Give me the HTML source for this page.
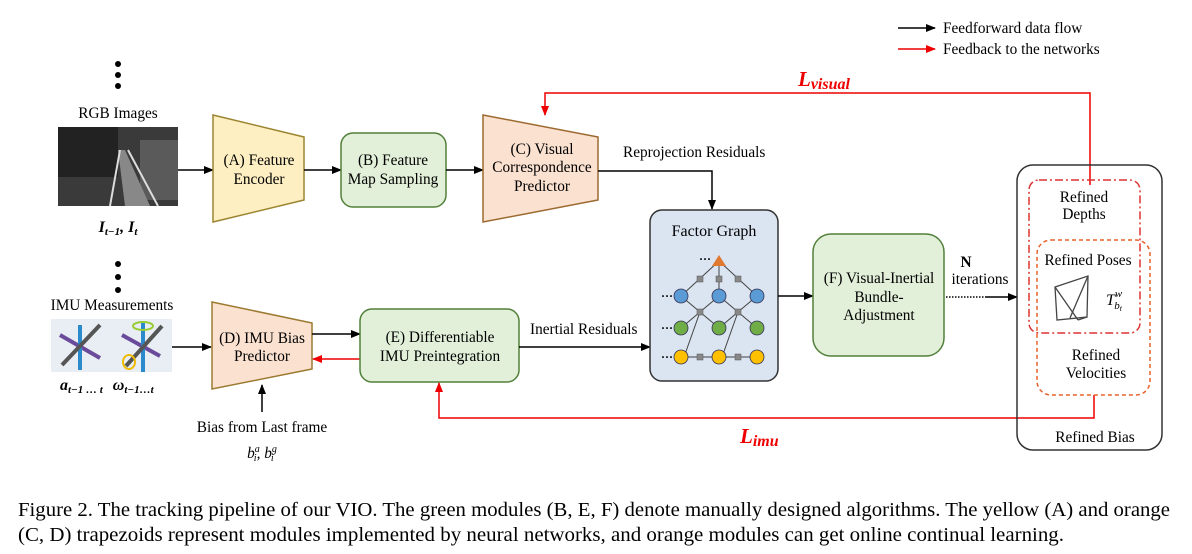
<!DOCTYPE html>
<html><head><meta charset="utf-8"><style>
body{margin:0;background:#fff;}
svg{display:block;font-family:"Liberation Serif",serif;}
</style></head><body>
<svg width="1192" height="554" viewBox="0 0 1192 554" xmlns="http://www.w3.org/2000/svg">
<defs>
<marker id="ab" markerWidth="10" markerHeight="8" refX="9" refY="4" orient="auto" markerUnits="userSpaceOnUse"><path d="M0,0 L10,4 L0,8 z" fill="#000"/></marker>
<marker id="ar" markerWidth="10" markerHeight="8" refX="9" refY="4" orient="auto" markerUnits="userSpaceOnUse"><path d="M0,0 L10,4 L0,8 z" fill="#e00"/></marker>
</defs>
<g font-size="15.3">
<!-- legend -->
<line x1="898" y1="28" x2="935" y2="28" stroke="#000" stroke-width="1.5" marker-end="url(#ab)"/>
<text x="943" y="33">Feedforward data flow</text>
<line x1="898" y1="49" x2="935" y2="49" stroke="#e00" stroke-width="1.5" marker-end="url(#ar)"/>
<text x="943" y="54">Feedback to the networks</text>

<!-- dots -->
<circle cx="118" cy="64" r="3"/><circle cx="118" cy="75" r="3"/><circle cx="118" cy="86" r="3"/>
<circle cx="118" cy="264" r="3"/><circle cx="118" cy="277" r="3"/><circle cx="118" cy="290" r="3"/>
<text x="118" y="118" text-anchor="middle">RGB Images</text>
<!-- image -->
<rect x="58" y="127" width="120" height="79" fill="#3a3a3a"/>
<rect x="58" y="127" width="60" height="50" fill="#222"/>
<rect x="140" y="140" width="38" height="60" fill="#5a5a5a"/>
<polygon points="118,150 125,150 150,206 125,206" fill="#888"/>
<line x1="120" y1="150" x2="110" y2="206" stroke="#ddd" stroke-width="2"/>
<line x1="128" y1="150" x2="158" y2="206" stroke="#ddd" stroke-width="2"/>
<text x="118" y="232" text-anchor="middle" font-weight="bold" font-style="italic" font-size="16">I<tspan font-size="11" dy="3">t−1</tspan><tspan dy="-3">, I</tspan><tspan font-size="11" dy="3">t</tspan></text>

<text x="112" y="310" text-anchor="middle">IMU Measurements</text>
<rect x="51" y="319" width="121" height="53" fill="#e8eef3"/>
<line x1="60" y1="335" x2="100" y2="358" stroke="#6a4a9a" stroke-width="4"/>
<line x1="80" y1="325" x2="80" y2="370" stroke="#2a8acb" stroke-width="4"/>
<line x1="62" y1="365" x2="100" y2="325" stroke="#555" stroke-width="4"/>
<line x1="122" y1="335" x2="160" y2="356" stroke="#6a4a9a" stroke-width="4"/>
<line x1="143" y1="321" x2="143" y2="372" stroke="#2a8acb" stroke-width="4"/>
<line x1="126" y1="366" x2="162" y2="326" stroke="#555" stroke-width="4"/>
<ellipse cx="143" cy="326" rx="10" ry="4" fill="none" stroke="#9c3" stroke-width="2"/>
<ellipse cx="129" cy="362" rx="6" ry="7" fill="none" stroke="#eb0" stroke-width="2"/>
<text x="60" y="390" font-weight="bold" font-style="italic" font-size="16">a<tspan font-size="11" dy="3">t−1 … t</tspan><tspan dy="-3" dx="10">ω</tspan><tspan font-size="11" dy="3">t−1…t</tspan></text>

<!-- arrows left -->
<line x1="178" y1="170" x2="213" y2="170" stroke="#000" stroke-width="1.5" marker-end="url(#ab)"/>
<line x1="172" y1="347" x2="211" y2="347" stroke="#000" stroke-width="1.5" marker-end="url(#ab)"/>

<!-- A -->
<polygon points="213,115 304,137 304,200 213,222" fill="#fdefc2" stroke="#9c8530" stroke-width="1.5"/>
<text x="259" y="165" text-anchor="middle">(A) Feature</text>
<text x="259" y="184" text-anchor="middle">Encoder</text>
<line x1="304" y1="170" x2="341" y2="170" stroke="#000" stroke-width="1.5" marker-end="url(#ab)"/>
<!-- B -->
<rect x="341" y="133" width="105" height="74" rx="12" fill="#e2f0d9" stroke="#52803a" stroke-width="1.5"/>
<text x="393" y="165" text-anchor="middle">(B) Feature</text>
<text x="393" y="184" text-anchor="middle">Map Sampling</text>
<line x1="446" y1="170" x2="483" y2="170" stroke="#000" stroke-width="1.5" marker-end="url(#ab)"/>
<!-- C -->
<polygon points="483,115 598,137 598,200 483,222" fill="#fbe1d0" stroke="#9c6a30" stroke-width="1.5"/>
<text x="542" y="154" text-anchor="middle">(C) Visual</text>
<text x="542" y="172" text-anchor="middle">Correspondence</text>
<text x="542" y="191" text-anchor="middle">Predictor</text>
<text x="623" y="157">Reprojection Residuals</text>
<polyline points="598,171 712,171 712,209" fill="none" stroke="#000" stroke-width="1.5" marker-end="url(#ab)"/>

<!-- red visual -->
<polyline points="1090,185 1090,93 545,93 545,115" fill="none" stroke="#e00" stroke-width="1.5" marker-end="url(#ar)"/>
<text x="798" y="86" fill="#e00" font-weight="bold" font-style="italic" font-size="21">L<tspan font-size="16" dy="3">visual</tspan></text>

<!-- D -->
<polygon points="212,302 312,323 312,369 212,389" fill="#fbe1d0" stroke="#9c7a30" stroke-width="1.5"/>
<text x="262" y="343" text-anchor="middle">(D) IMU Bias</text>
<text x="262" y="361" text-anchor="middle">Predictor</text>
<line x1="262" y1="412" x2="262" y2="385" stroke="#000" stroke-width="1.5" marker-end="url(#ab)"/>
<text x="262" y="432" text-anchor="middle">Bias from Last frame</text>
<text x="262" y="458" text-anchor="middle" font-style="italic">b<tspan font-size="10" dy="-6">a</tspan><tspan font-size="10" dy="9" dx="-6">i</tspan><tspan dy="-3">, b</tspan><tspan font-size="10" dy="-6">g</tspan><tspan font-size="10" dy="9" dx="-6">i</tspan></text>
<line x1="312" y1="334" x2="360" y2="334" stroke="#000" stroke-width="1.5" marker-end="url(#ab)"/>
<line x1="360" y1="359" x2="313" y2="359" stroke="#e00" stroke-width="1.5" marker-end="url(#ar)"/>
<!-- E -->
<rect x="360" y="309" width="159" height="73" rx="12" fill="#e2f0d9" stroke="#52803a" stroke-width="1.5"/>
<text x="440" y="342" text-anchor="middle">(E) Differentiable</text>
<text x="440" y="361" text-anchor="middle">IMU Preintegration</text>
<text x="530" y="334">Inertial Residuals</text>
<line x1="519" y1="347" x2="650" y2="347" stroke="#000" stroke-width="1.5" marker-end="url(#ab)"/>

<!-- red imu -->
<polyline points="1094,395 1094,418 439,418 439,383" fill="none" stroke="#e00" stroke-width="1.5" marker-end="url(#ar)"/>
<text x="740" y="443" fill="#e00" font-weight="bold" font-style="italic" font-size="21">L<tspan font-size="16" dy="3">imu</tspan></text>

<!-- Factor graph -->
<rect x="650" y="210" width="128" height="171" rx="12" fill="#dbe4f1" stroke="#333" stroke-width="1.5"/>
<text x="714" y="236" text-anchor="middle" font-size="16">Factor Graph</text>
<g stroke="#444" stroke-width="1">
<line x1="719" y1="261" x2="681" y2="296"/><line x1="719" y1="261" x2="719" y2="296"/><line x1="719" y1="261" x2="757" y2="296"/>
<line x1="681" y1="296" x2="700" y2="312"/><line x1="719" y1="296" x2="700" y2="312"/><line x1="719" y1="296" x2="738" y2="312"/><line x1="757" y1="296" x2="738" y2="312"/>
<line x1="700" y1="312" x2="681" y2="328"/><line x1="700" y1="312" x2="719" y2="328"/><line x1="738" y1="312" x2="719" y2="328"/><line x1="738" y1="312" x2="757" y2="328"/>
<line x1="700" y1="312" x2="684" y2="357"/><line x1="738" y1="312" x2="722" y2="357"/>
<line x1="681" y1="357" x2="757" y2="357"/>
</g>
<g fill="#888" stroke="#555" stroke-width="0.5">
<rect x="697" y="276" width="6" height="6"/><rect x="716" y="276" width="6" height="6"/><rect x="735" y="276" width="6" height="6"/>
<rect x="697" y="309" width="6" height="6"/><rect x="735" y="309" width="6" height="6"/>
<rect x="697" y="354" width="6" height="6"/><rect x="735" y="354" width="6" height="6"/>
</g>
<polygon points="719,255 726,266 712,266" fill="#e07a30"/>
<g stroke="#335" stroke-width="0.8">
<circle cx="681" cy="296" r="7" fill="#5b9bd5"/><circle cx="719" cy="296" r="7" fill="#5b9bd5"/><circle cx="757" cy="296" r="7" fill="#5b9bd5"/>
<circle cx="681" cy="328" r="7" fill="#70ad47"/><circle cx="719" cy="328" r="7" fill="#70ad47"/><circle cx="757" cy="328" r="7" fill="#70ad47"/>
<circle cx="681" cy="357" r="7" fill="#ffc000"/><circle cx="719" cy="357" r="7" fill="#ffc000"/><circle cx="757" cy="357" r="7" fill="#ffc000"/>
</g>
<g font-size="12" font-weight="bold"><text x="699" y="263">···</text><text x="661" y="300">···</text><text x="661" y="332">···</text><text x="661" y="361">···</text></g>

<line x1="778" y1="296" x2="813" y2="296" stroke="#000" stroke-width="1.5" marker-end="url(#ab)"/>
<!-- F -->
<rect x="813" y="234" width="131" height="122" rx="18" fill="#e2f0d9" stroke="#52803a" stroke-width="1.5"/>
<text x="879" y="283" text-anchor="middle">(F) Visual-Inertial</text>
<text x="879" y="302" text-anchor="middle">Bundle-</text>
<text x="879" y="320" text-anchor="middle">Adjustment</text>
<text x="966" y="267" text-anchor="middle" font-weight="bold">N</text>
<text x="980" y="284" text-anchor="middle">iterations</text>
<line x1="946" y1="297" x2="985" y2="297" stroke="#000" stroke-width="1.5" stroke-dasharray="1.5,1.5"/>
<line x1="985" y1="297" x2="1017" y2="297" stroke="#000" stroke-width="1.5" marker-end="url(#ab)"/>

<!-- right box -->
<rect x="1017" y="165" width="145" height="285" rx="16" fill="none" stroke="#333" stroke-width="1.5"/>
<rect x="1029" y="180" width="111" height="153" rx="10" fill="none" stroke="#d33" stroke-width="1.5" stroke-dasharray="8,3,2,3"/>
<rect x="1037" y="240" width="113" height="155" rx="14" fill="none" stroke="#e8602a" stroke-width="1.5" stroke-dasharray="4,3"/>
<text x="1084" y="202" text-anchor="middle">Refined</text>
<text x="1084" y="219" text-anchor="middle">Depths</text>
<text x="1088" y="265" text-anchor="middle">Refined Poses</text>
<g fill="none" stroke="#444" stroke-width="1.3">
<polygon points="1055,287 1088,276 1087,317 1057,320"/>
<line x1="1055" y1="287" x2="1078" y2="320"/><line x1="1088" y1="276" x2="1070" y2="318"/><line x1="1078" y1="320" x2="1087" y2="317"/>
</g>
<text x="1106" y="305" font-style="italic" font-size="16">T<tspan font-size="11" dy="-8">w</tspan><tspan font-size="11" dy="12" dx="-8">b</tspan><tspan font-size="8" dy="2">t</tspan></text>
<text x="1096" y="360" text-anchor="middle">Refined</text>
<text x="1096" y="378" text-anchor="middle">Velocities</text>
<text x="1095" y="442" text-anchor="middle">Refined Bias</text>

<!-- caption -->
<text x="18" y="516" font-size="20" textLength="1152" lengthAdjust="spacingAndGlyphs">Figure 2. The tracking pipeline of our VIO. The green modules (B, E, F) denote manually designed algorithms. The yellow (A) and orange</text>
<text x="18" y="541" font-size="20" textLength="1046" lengthAdjust="spacingAndGlyphs">(C, D) trapezoids represent modules implemented by neural networks, and orange modules can get online continual learning.</text>
</g>
</svg>
</body></html>
